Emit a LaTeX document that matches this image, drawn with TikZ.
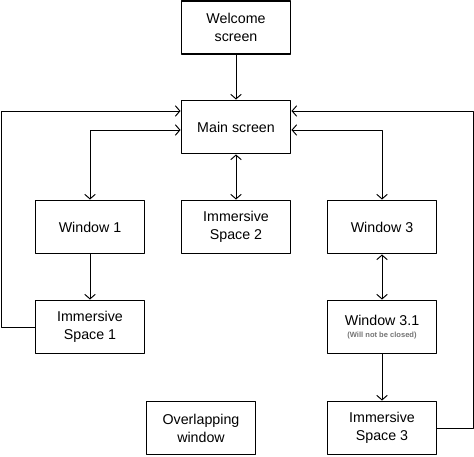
\documentclass[tikz,border=0pt]{standalone}
\usepackage{fontspec}
\setmainfont{Liberation Sans}
\usetikzlibrary{arrows.meta}
\tikzset{
	screen/.style={draw,line width=1.1pt,minimum width=2.18cm,minimum height=1.06cm,inner sep=0pt,align=center},
	link/.style={line width=.55pt}
}
\begin{document}
\begin{tikzpicture}[>={Straight Barb[length=2.6pt,width=6pt]},line join=round,font=\fontsize{8.1}{10.2}\selectfont]
			\useasboundingbox (0,0) rectangle (9.48,-9.12);
			\def\xl{1.8} \def\xm{4.72} \def\xr{7.64}
			% boxes
			\node[screen] (welcome) at (\xm,-0.55) {Welcome\\screen};
			\node[screen] (main) at (\xm,-2.54) {Main screen};
			\node[screen] (win1) at (\xl,-4.54) {Window 1};
			\node[screen] (imm2) at (\xm,-4.54) {Immersive\\Space 2};
			\node[screen] (win3) at (\xr,-4.54) {Window 3};
			\node[screen] (imm1) at (\xl,-6.54) {Immersive\\Space 1};
			\node[screen] (win31) at (\xr,-6.54) {Window 3.1\\[-3.5pt]{\fontsize{4.3}{5}\selectfont\bfseries\color{black!55}(Will not be closed)}};
			\node[screen] (overlap) at (4.02,-8.56) {Overlapping\\window};
			\node[screen] (imm3) at (\xr,-8.56) {Immersive\\Space 3};
			\coordinate (lft) at (0.02,0);
			\coordinate (rgt) at (9.46,0);
			% links
			\draw[link,->] (welcome)--(main);
			\draw[link,<->] ([yshift=-.06cm]main.west) -| (win1);
			\draw[link,<->] (main)--(imm2);
			\draw[link,<->] ([yshift=-.06cm]main.east) -| (win3);
			\draw[link,->] (win1)--(imm1);
			\draw[link,<->] (win3)--(win31);
			\draw[link,->] (win31)--(imm3);
			\draw[link,->] (imm1.west)--(imm1.west -| lft) |- ([yshift=.32cm]main.west);
			\draw[link,->] (imm3.east)--(imm3.east -| rgt) |- ([yshift=.32cm]main.east);
	\end{tikzpicture}
\end{document}
